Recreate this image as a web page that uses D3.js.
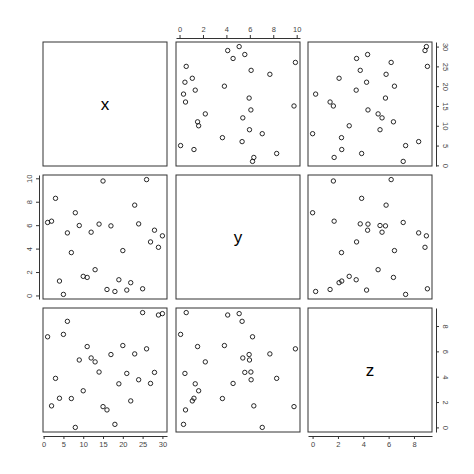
<!DOCTYPE html>
<html><head><meta charset="utf-8">
<script src="https://cdn.jsdelivr.net/npm/d3@7"></script>
<style>body{margin:0;background:#fff}text{font-family:"Liberation Sans",Arial,sans-serif}</style>
</head><body>
<script>
var names=["x","y","z"];
var xs=[1,2,3,4,5,6,7,8,9,10,11,12,13,14,15,16,17,18,19,20,21,22,23,24,25,26,27,28,29,30];
var ys=[6.23,6.34,8.29,1.23,0.09,5.34,3.66,7.06,5.97,1.63,1.54,5.4,2.2,6.09,9.77,0.51,5.94,0.34,1.34,3.83,0.46,1.09,7.71,6.11,0.57,9.89,4.57,5.57,4.11,5.09];
var zs=[7.15,1.7,3.87,2.3,7.34,8.37,2.28,0,5.32,2.89,6.38,5.48,5.17,4.37,1.64,1.38,5.75,0.24,3.44,6.46,4.26,2.09,5.8,3.76,9.06,6.2,3.47,4.34,8.87,8.98];
var ticks=[[0,5,10,15,20,25,30],[0,2,4,6,8,10],[0,2,4,6,8]];
var cols=[xs,ys,zs];

var W=474,H=474,lefts=[43,176,308],tops=[42,175,308],size=124;
var svg=d3.select("body").append("svg").attr("width",W).attr("height",H);

function pad(v){var e=d3.extent(v),p=(e[1]-e[0])*0.04;return [e[0]-p,e[1]+p];}
var sx=cols.map(function(v,i){return d3.scaleLinear().domain(pad(v)).range([lefts[i],lefts[i]+size]);});
var sy=cols.map(function(v,i){return d3.scaleLinear().domain(pad(v)).range([tops[i]+size,tops[i]]);});

for(var r=0;r<3;r++){for(var c=0;c<3;c++){
  svg.append("rect").attr("x",lefts[c]).attr("y",tops[r]).attr("width",size).attr("height",size)
    .attr("fill","none").attr("stroke","#333").attr("stroke-width",1);
  if(r==c){
    svg.append("text").attr("x",lefts[c]+size/2).attr("y",tops[r]+size/2+6)
      .attr("text-anchor","middle").attr("font-size",17).text(names[r]);
    continue;
  }
  var g=svg.append("g");
  (function(r,c){
  g.selectAll("circle").data(d3.range(30)).enter().append("circle")
    .attr("cx",function(i){return sx[c](cols[c][i]);})
    .attr("cy",function(i){return sy[r](cols[r][i]);})
    .attr("r",2.2).attr("fill","none").attr("stroke","#111").attr("stroke-width",0.9);
  })(r,c);
}}

function style(g){g.select(".domain").attr("stroke","#333");g.selectAll("line").attr("stroke","#333");
  g.selectAll("text").attr("font-size",7.5).attr("fill","#444");}
// bottom axes: cols 0,2
[0,2].forEach(function(c){
  var g=svg.append("g").attr("transform","translate(0,"+(tops[2]+size+4)+")")
    .call(d3.axisBottom(sx[c]).tickValues(ticks[c]).tickSize(3).tickSizeOuter(0));
  style(g);});
// top axis: col 1
var gt=svg.append("g").attr("transform","translate(0,"+(tops[0]-4)+")")
  .call(d3.axisTop(sx[1]).tickValues(ticks[1]).tickSize(3).tickSizeOuter(0));
style(gt);
// left axis: row 1
var gl=svg.append("g").attr("transform","translate("+(lefts[0]-4)+",0)")
  .call(d3.axisLeft(sy[1]).tickValues(ticks[1]).tickSize(3).tickSizeOuter(0));
style(gl);
gl.selectAll(".tick text").attr("transform","rotate(-90)").attr("text-anchor","middle").attr("x",0).attr("y",-7).attr("dy","0");
// right axes: rows 0,2
[0,2].forEach(function(r){
  var g=svg.append("g").attr("transform","translate("+(lefts[2]+size+4)+",0)")
    .call(d3.axisRight(sy[r]).tickValues(ticks[r]).tickSize(3).tickSizeOuter(0));
  style(g);
  g.selectAll(".tick text").attr("transform","rotate(90)").attr("text-anchor","middle").attr("x",0).attr("y",-7).attr("dy","0");
});
</script>
</body></html>
